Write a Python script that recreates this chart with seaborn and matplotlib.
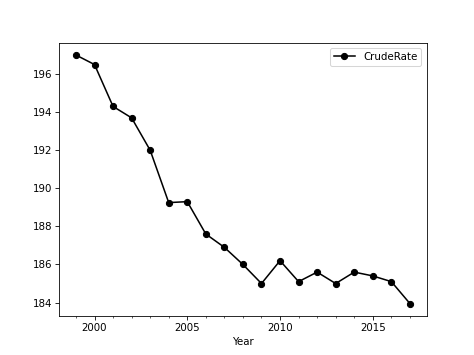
import matplotlib
matplotlib.use("Agg")
import matplotlib.pyplot as plt
from matplotlib.ticker import MultipleLocator, FormatStrFormatter
import seaborn as sns
import pandas as pd

years = [1999, 2000, 2001, 2002, 2003, 2004, 2005, 2006, 2007, 2008,
         2009, 2010, 2011, 2012, 2013, 2014, 2015, 2016, 2017]
crude_rate = [197.0, 196.5, 194.3, 193.7, 192.0, 189.25, 189.3, 187.6, 186.9, 186.0,
              185.0, 186.2, 185.1, 185.6, 185.0, 185.6, 185.4, 185.1, 183.95]

df = pd.DataFrame({"Year": years, "CrudeRate": crude_rate})

fig, ax = plt.subplots(figsize=(6.4, 355 / 74.0625), dpi=74.0625)
sns.lineplot(data=df, x="Year", y="CrudeRate", marker="o", color="black",
             markeredgecolor="black", markeredgewidth=1, markersize=6,
             linewidth=1.5, label="CrudeRate", ax=ax)
ax.set_ylabel("")
ax.set_xlabel("Year")
ax.xaxis.set_major_locator(MultipleLocator(5))
ax.xaxis.set_major_formatter(FormatStrFormatter("%d"))
ax.xaxis.set_minor_locator(MultipleLocator(1))
ax.legend(loc="upper right")
fig.savefig("out.png", dpi=74.0625)
